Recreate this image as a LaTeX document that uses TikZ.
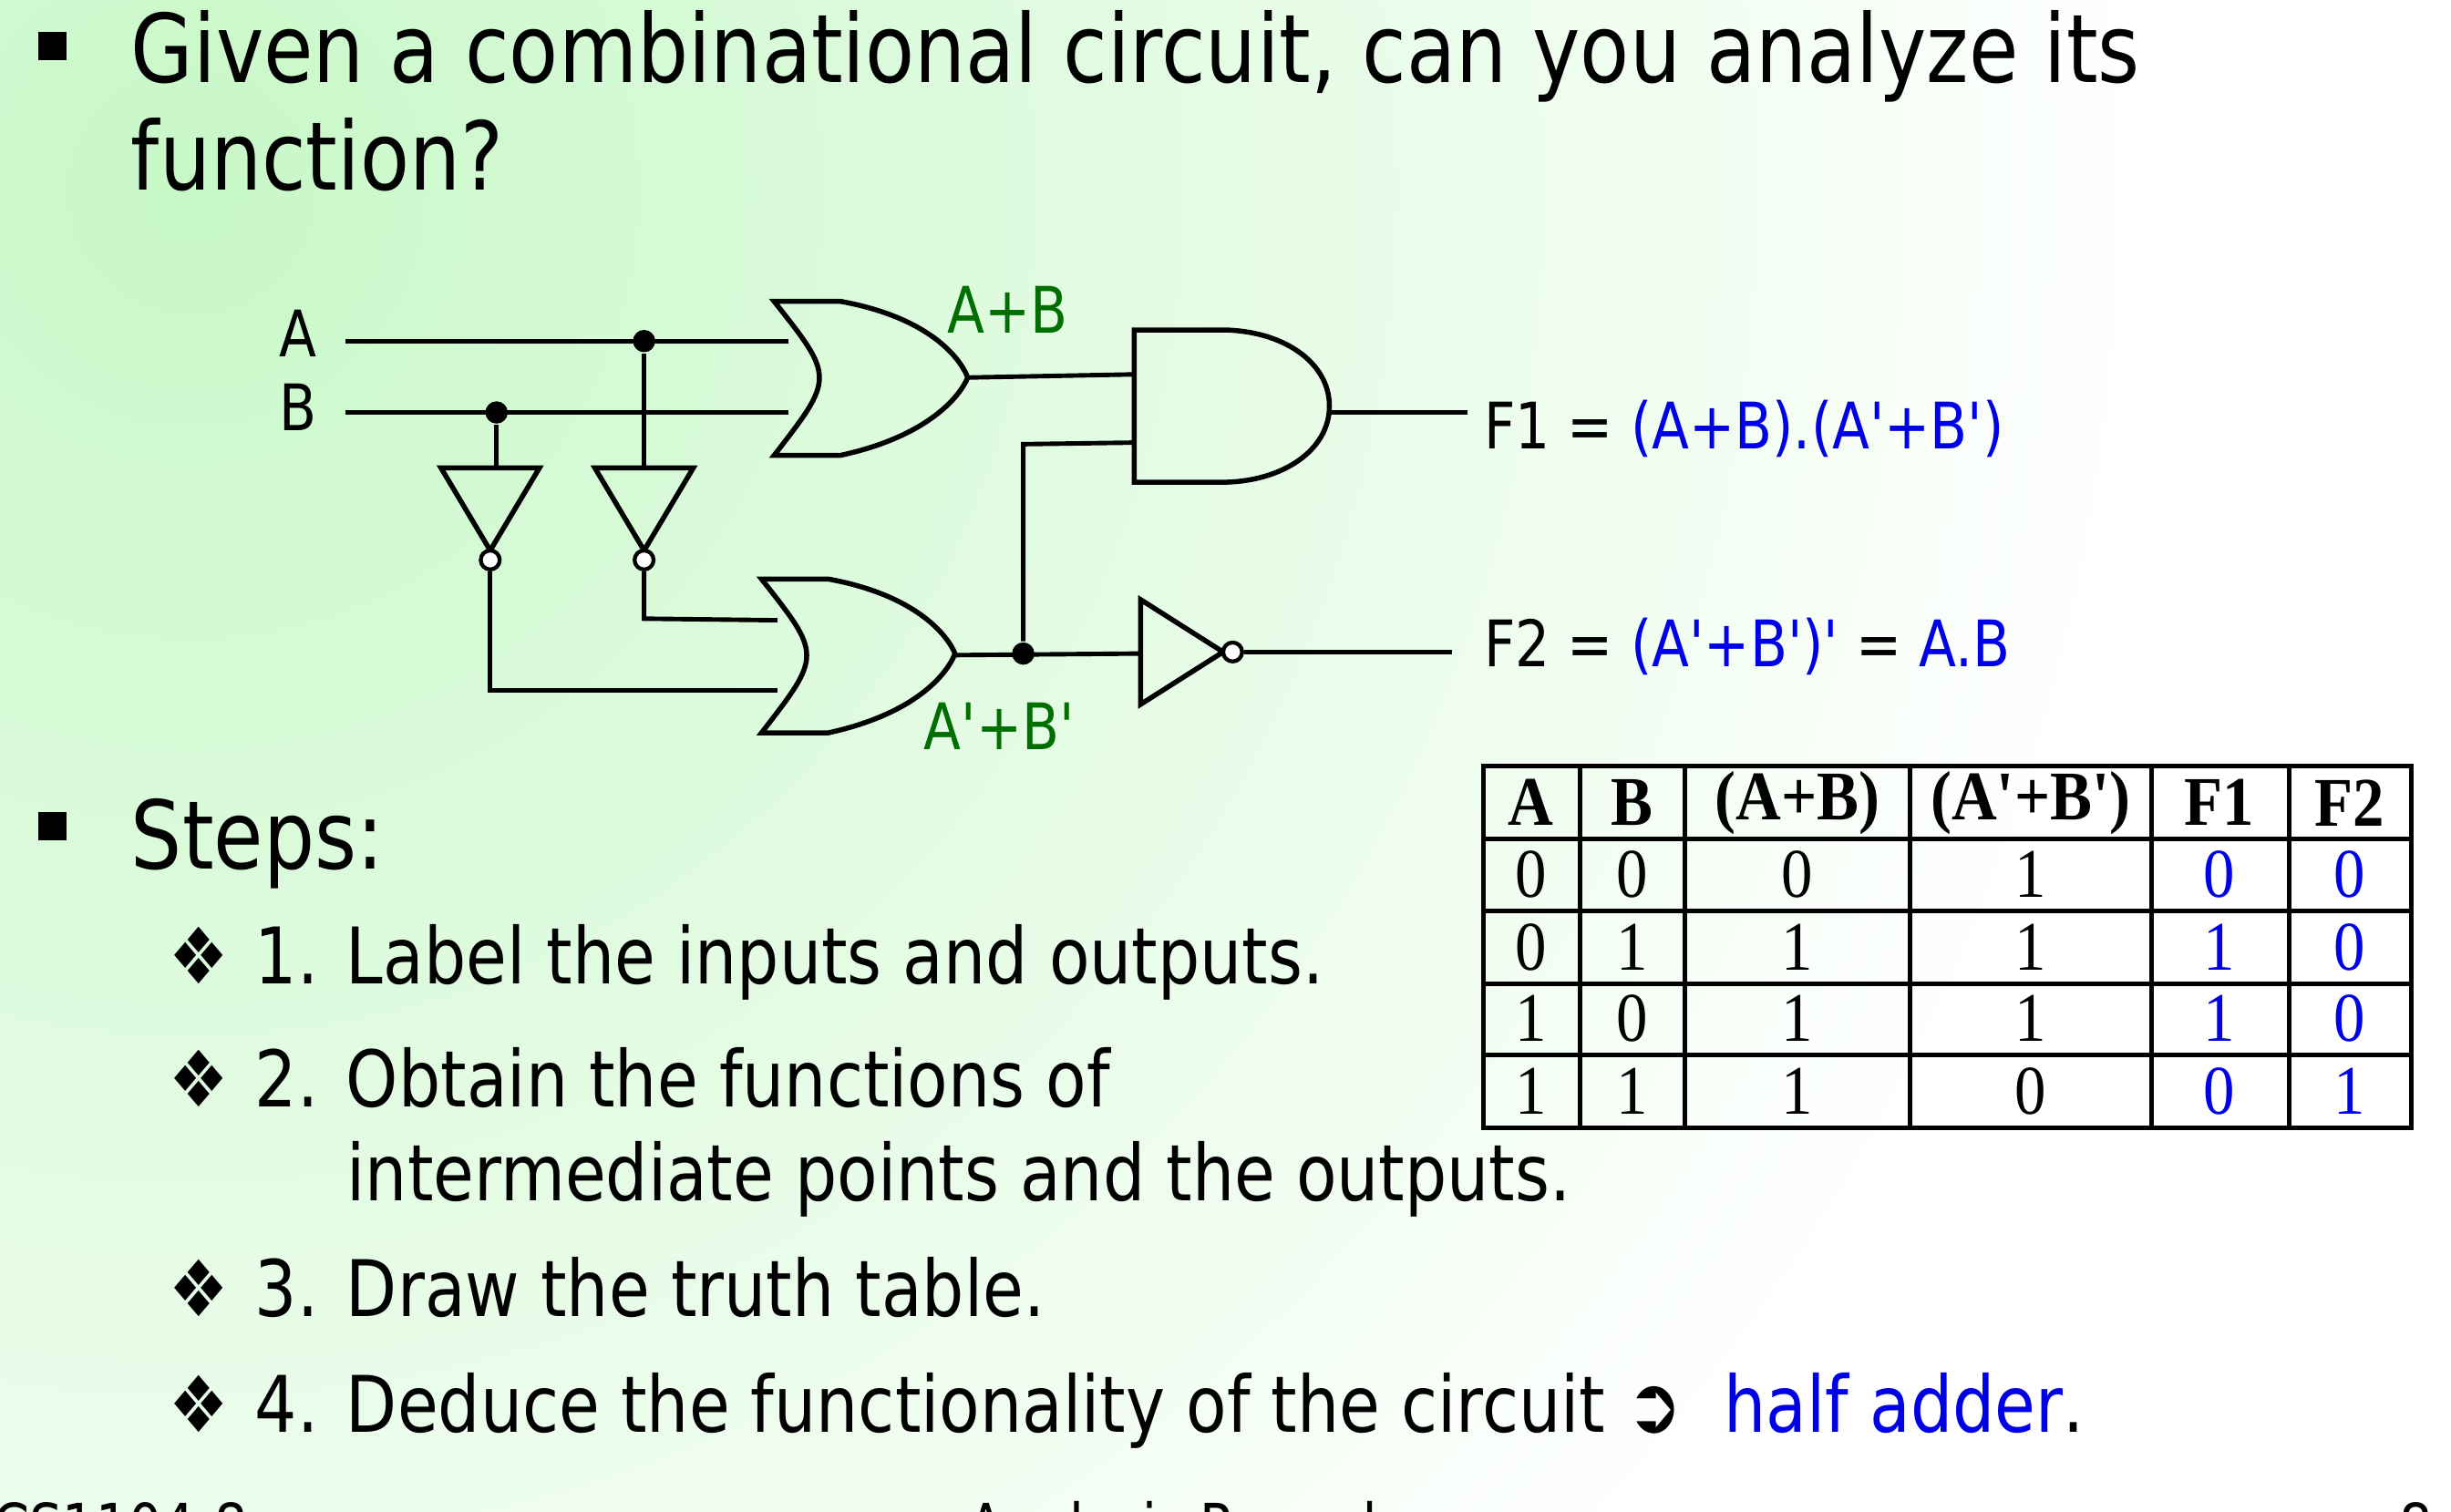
\documentclass[tikz,border=0pt]{standalone}
\usepackage{fontspec}
\setmainfont{DejaVu Sans}[FakeStretch=0.85,Ligatures=TeXOff]
\newfontfamily\tabfont{Liberation Serif}[FakeStretch=0.9,Ligatures=TeXOff]
\begin{document}
\begin{tikzpicture}[x=0.01cm,y=-0.01cm,
  wire/.style={line width=0.8pt},
  gate/.style={line width=0.9pt},
  txt/.style={anchor=base west,inner sep=0pt},
  big/.style={txt,font=\fontsize{17}{20}\selectfont},
  mid/.style={txt,font=\fontsize{14}{17}\selectfont},
  sml/.style={inner sep=0pt,font=\fontsize{11.5}{14}\selectfont},
  dot/.style={circle,fill=black,inner sep=0pt,minimum size=4pt},
  bub/.style={circle,draw,line width=0.7pt,fill=white,inner sep=0pt,minimum size=3.4pt},
  cell/.style={font=\tabfont\fontsize{12.5}{15}\selectfont,inner sep=0pt}]
\definecolor{bg}{RGB}{200,248,200}
\definecolor{gr}{RGB}{0,110,0}
\definecolor{bl}{RGB}{0,0,230}
\useasboundingbox (0,0) rectangle (1545,953);
\fill[white] (0,0) rectangle (1545,953);
\begin{scope}
\clip (0,0) rectangle (1545,953);
\shade[inner color=bg,outer color=white] (120,120) circle (1250);
\end{scope}
% bullets
\fill (24,20) rectangle (42,38);
\node[big] (t1) at (82,52) {Given a combinational circuit, can you analyze its};
\node[big] (t2) at (82,120) {function?};
% circuit
\node[sml] (la) at (188,210) {A};
\node[sml] (lb) at (188,257) {B};
\coordinate (a0) at (218,215); \coordinate (a1) at (497,215);
\coordinate (b0) at (218,260); \coordinate (b1) at (497,260);
\draw[wire] (a0)--(a1); \draw[wire] (b0)--(b1);
\node[dot] (da) at (406,215) {}; \node[dot] (db) at (313,260) {};
% inverters
\draw[gate] (278,295)--(340,295)--(309,347)--cycle;
\draw[gate] (375,295)--(437,295)--(406,347)--cycle;
\node[bub] (n1) at (309,353) {}; \node[bub] (n2) at (406,353) {};
\draw[wire] (db)--(313,295); \draw[wire] (da)--(406,295);
\draw[wire] (n1.south)--(309,435)--(490,435);
\draw[wire] (n2.south)--(406,390)--(490,391);
% OR1
\draw[gate] (488,190) .. controls (526,238) .. (488,287) -- (530,287) .. controls (585,275) and (605,250) .. (610,238) .. controls (605,225) and (585,200) .. (530,190) -- cycle;
\coordinate (o1) at (610,238);
% AND
\draw[gate] (715,208)--(715,304)--(770,304) .. controls (808,304) and (838,284) .. (838,256) .. controls (838,228) and (808,208) .. (770,208) -- cycle;
\draw[wire] (o1)--(715,236);
\draw[wire] (838,260)--(925,260);
% OR2
\draw[gate] (480,365) .. controls (518,413) .. (480,462) -- (522,462) .. controls (577,450) and (597,425) .. (602,412) .. controls (597,400) and (577,375) .. (522,365) -- cycle;
\node[dot] (d2) at (645,412) {};
\draw[wire] (602,413)--(718,412);
\draw[wire] (d2)--(645,280)--(715,279);
% NOT
\draw[gate] (719,378)--(719,444)--(771,411)--cycle;
\node[bub] (n3) at (777,411) {};
\draw[wire] (n3.east)--(915,411);
\node[sml,text=gr] (lab1) at (635,195) {A+B};
\node[sml,text=gr] (lab2) at (630,458) {A'+B'};
\node[txt,font=\fontsize{11.5}{14}\selectfont] (f1) at (935,283) {F1 = \textcolor{bl}{(A+B).(A'+B')}};
\node[txt,font=\fontsize{11.5}{14}\selectfont] (f2) at (935,420) {F2 = \textcolor{bl}{(A'+B')'} = \textcolor{bl}{A.B}};
% steps
\fill (24,512) rectangle (42,530);
\node[big] (s0) at (82,548) {Steps:};
\foreach \y/\t [count=\i] in {620/{1. Label the inputs and outputs.},698/{2. Obtain the functions of},830/{3. Draw the truth table.}} {
  \node[mid] (sb\i) at (106,\y) {❖};
  \node[mid] (st\i) at (160,\y) {\t};
}
\node[mid] (st5) at (218,757) {intermediate points and the outputs.};
\node[mid] (sb4) at (106,903) {❖};
\node[mid] (st4) at (160,903) {4. Deduce the functionality of the circuit ➲ \ \textcolor{bl}{half adder}.};
% table
\draw[line width=0.8pt] (935,483) rectangle (1520,711);
\foreach \x in {996,1062,1204,1356,1443} \draw[line width=0.8pt] (\x,483)--(\x,711);
\foreach \y in {529,574,620,665} \draw[line width=0.8pt] (935,\y)--(1520,\y);
\foreach \x/\t in {965/A,1029/B,1133/(A+B),1280/(A'+B'),1399/F1,1481/F2}
  \node[cell,font=\tabfont\bfseries\fontsize{12.5}{15}\selectfont] at (\x,506) {\t};
\foreach \y/\a/\b/\c/\d/\e/\f in {551/0/0/0/1/0/0,597/0/1/1/1/1/0,642/1/0/1/1/1/0,688/1/1/1/0/0/1} {
  \node[cell] at (965,\y) {\a}; \node[cell] at (1029,\y) {\b};
  \node[cell] at (1133,\y) {\c}; \node[cell] at (1280,\y) {\d};
  \node[cell,text=bl] at (1399,\y) {\e}; \node[cell,text=bl] at (1481,\y) {\f};
}
% footer (cut off)
\begin{scope}
\clip (0,0) rectangle (1545,953);
\node[txt,font=\fontsize{11}{13}\selectfont] (ft1) at (-5,976) {CS1104-8};
\node[txt,font=\fontsize{11}{13}\selectfont] (ft2) at (610,976) {Analysis Procedure};
\node[txt,font=\fontsize{11}{13}\selectfont] (ft3) at (1512,976) {8};
\end{scope}
\end{tikzpicture}
\end{document}
